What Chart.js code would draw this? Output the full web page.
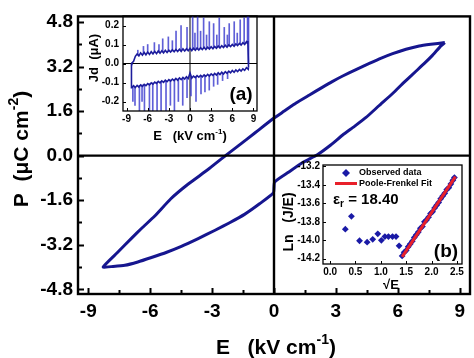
<!DOCTYPE html>
<html><head><meta charset="utf-8">
<script src="https://cdn.jsdelivr.net/npm/chart.js@4/dist/chart.umd.min.js"></script>
<style>
html,body{margin:0;padding:0;background:#fff;}
#wrap{position:relative;width:474px;height:358px;overflow:hidden;background:#fff;}
canvas{position:absolute;}
</style></head><body>
<div id="wrap">
<canvas id="main" style="left:0px;top:0px;width:474px;height:358px" width="474" height="358"></canvas>
<canvas id="insA" style="left:84px;top:6px;width:178px;height:140px" width="178" height="140"></canvas>
<canvas id="insB" style="left:276px;top:156px;width:194px;height:136px" width="194" height="136"></canvas>
</div>
<script>
// ---------- main P-E loop ----------
const loopUpperE = [8.28, 7.6, 7.04, 6.4, 5.75, 5.2, 4.62, 4.0, 3.33, 2.8, 2.36, 1.7, 1.07, 0.5, 0.0, -0.9, -1.75, -2.35, -3.2, -4.17, -5.0, -5.78, -6.4, -6.91, -7.6, -8.28];
const loopUpperP = [4.06, 4.0, 3.94, 3.82, 3.66, 3.5, 3.31, 3.1, 2.86, 2.65, 2.46, 2.17, 1.89, 1.6, 1.35, 0.83, 0.34, 0.0, -0.5, -1.03, -1.55, -2.17, -2.6, -2.97, -3.49, -4.0];
const loopLowerE = [-7.8, -7.23, -6.6, -5.94, -5.2, -4.49, -3.7, -2.88, -2.15, -1.43, -0.7, -0.03, 0.03, 0.7, 1.39, 2.1, 2.75, 3.33, 3.9, 4.46, 5.1, 5.75, 6.3, 6.88, 7.3, 7.68, 8.09, 8.28];
const loopLowerP = [-3.98, -3.94, -3.82, -3.66, -3.47, -3.26, -2.99, -2.69, -2.41, -2.11, -1.73, -1.34, -0.95, -0.6, -0.25, 0.03, 0.38, 0.74, 1.05, 1.37, 1.8, 2.23, 2.63, 3.03, 3.32, 3.6, 3.94, 4.06];
const eTicks = [-9, -6, -3, 0, 3, 6, 9];
const eMinorTicks = [-7.5, -4.5, -1.5, 1.5, 4.5, 7.5];
const pTicks = [-4.8, -3.2, -1.6, 0.0, 1.6, 3.2, 4.8];
const pMinorTicks = [-4.0, -2.4, -0.8, 0.8, 2.4, 4.0];

// ---------- inset (a): leakage current (noisy band + spikes) ----------
const jdUpperE = [-8.3, -8.25, -8.0, -7.75, -7.5, -7.25, -7.0, -6.75, -6.5, -6.25,
  -6.0, -5.75, -5.5, -5.25, -5.0, -4.75, -4.5, -4.25, -4.0, -3.75,
  -3.5, -3.25, -3.0, -2.75, -2.5, -2.25, -2.0, -1.75, -1.5, -1.25,
  -1.0, -0.75, -0.5, -0.25, 0.0, 0.25, 0.5, 0.75, 1.0, 1.25,
  1.5, 1.75, 2.0, 2.25, 2.5, 2.75, 3.0, 3.25, 3.5, 3.75,
  4.0, 4.25, 4.5, 4.75, 5.0, 5.25, 5.5, 5.75, 6.0, 6.25,
  6.5, 6.75, 7.0, 7.25, 7.5, 7.75, 8.0, 8.1, 8.2, 8.3];
const jdUpperJ = [-0.005, 0.002, 0.012, 0.038, 0.05, 0.04, 0.056, 0.044, 0.058, 0.046,
  0.06, 0.048, 0.062, 0.05, 0.064, 0.052, 0.066, 0.054, 0.067, 0.056,
  0.069, 0.058, 0.07, 0.06, 0.072, 0.062, 0.074, 0.063, 0.075, 0.064,
  0.077, 0.066, 0.078, 0.067, 0.08, 0.068, 0.08, 0.07, 0.082, 0.071,
  0.083, 0.073, 0.085, 0.074, 0.086, 0.076, 0.088, 0.078, 0.09, 0.08,
  0.092, 0.082, 0.094, 0.084, 0.096, 0.086, 0.098, 0.089, 0.10, 0.091,
  0.103, 0.094, 0.106, 0.097, 0.109, 0.10, 0.114, 0.108, 0.118, -0.02];
const jdLowerE = [8.3, 8.25, 8.0, 7.75, 7.5, 7.25, 7.0, 6.75, 6.5, 6.25,
  6.0, 5.75, 5.5, 5.25, 5.0, 4.75, 4.5, 4.25, 4.0, 3.75,
  3.5, 3.25, 3.0, 2.75, 2.5, 2.25, 2.0, 1.75, 1.5, 1.25,
  1.0, 0.75, 0.5, 0.25, 0.0, -0.25, -0.5, -0.75, -1.0, -1.25,
  -1.5, -1.75, -2.0, -2.25, -2.5, -2.75, -3.0, -3.25, -3.5, -3.75,
  -4.0, -4.25, -4.5, -4.75, -5.0, -5.25, -5.5, -5.75, -6.0, -6.25,
  -6.5, -6.75, -7.0, -7.25, -7.5, -7.75, -8.0, -8.25, -8.3, -8.3];
const jdLowerJ = [-0.02, -0.03, -0.022, -0.036, -0.028, -0.04, -0.031, -0.043, -0.034, -0.046,
  -0.037, -0.049, -0.04, -0.052, -0.043, -0.055, -0.046, -0.058, -0.049, -0.061,
  -0.052, -0.063, -0.055, -0.066, -0.057, -0.068, -0.06, -0.07, -0.062, -0.072,
  -0.064, -0.074, -0.066, -0.077, -0.05, -0.079, -0.07, -0.082, -0.073, -0.085,
  -0.076, -0.088, -0.079, -0.09, -0.082, -0.093, -0.085, -0.096, -0.088, -0.099,
  -0.091, -0.102, -0.094, -0.105, -0.098, -0.109, -0.102, -0.113, -0.106, -0.117,
  -0.11, -0.121, -0.113, -0.124, -0.115, -0.127, -0.117, -0.128, -0.122, 0.0];
const spikeUpE = [-7.4, -6.6, -6.0, -5.05, -4.4, -3.87, -3.07, -2.5, -1.98, -1.27,
  -0.42, 0.38, 0.7, 1.08, 1.5, 1.93, 2.35, 2.74, 3.35, 3.8,
  4.15, 4.86, 5.3, 5.56, 6.27, 6.7, 7.12, 7.68, 8.16, 8.3];
const spikeUpBase = [0.045, 0.05, 0.055, 0.058, 0.06, 0.062, 0.065, 0.066, 0.068, 0.07,
  0.072, 0.073, 0.074, 0.075, 0.076, 0.078, 0.079, 0.08, 0.083, 0.085,
  0.086, 0.09, 0.092, 0.093, 0.097, 0.10, 0.102, 0.107, 0.112, 0.0];
const spikeUpTop = [0.07, 0.09, 0.10, 0.11, 0.10, 0.13, 0.14, 0.12, 0.17, 0.20,
  0.19, 0.25, 0.16, 0.25, 0.17, 0.24, 0.15, 0.22, 0.21, 0.15,
  0.24, 0.19, 0.15, 0.21, 0.22, 0.16, 0.23, 0.24, 0.25, 0.25];
const spikeDnE = [-8.1, -7.8, -7.17, -6.8, -6.46, -5.75, -5.28, -4.67, -4.1, -3.4,
  -2.78, -2.21, -1.65, -1.03, -0.42, 0.14, 0.85, 1.56, 2.12, 2.73,
  3.35, 3.92, 4.62, 5.33];
const spikeDnBase = [-0.12, -0.12, -0.115, -0.112, -0.11, -0.106, -0.102, -0.098, -0.094, -0.09,
  -0.086, -0.083, -0.08, -0.077, -0.073, -0.071, -0.069, -0.066, -0.063, -0.06,
  -0.057, -0.054, -0.05, -0.045];
const spikeDnTop = [-0.2, -0.22, -0.25, -0.2, -0.25, -0.25, -0.25, -0.25, -0.25, -0.25,
  -0.22, -0.25, -0.2, -0.22, -0.18, -0.17, -0.2, -0.16, -0.15, -0.14,
  -0.12, -0.11, -0.09, -0.08];
const aETicks = [-9, -6, -3, 0, 3, 6, 9];
const aJTicks = [-0.2, -0.1, 0.0, 0.1, 0.2];

// ---------- inset (b): Poole-Frenkel ----------
const pfSqrtE = [0.30, 0.42, 0.58, 0.73, 0.84, 0.94, 1.01, 1.08, 1.15, 1.23, 1.30, 1.36,
  1.42, 1.46, 1.50, 1.54, 1.58, 1.62, 1.66, 1.70, 1.74, 1.78, 1.82, 1.86, 1.90, 1.94,
  1.98, 2.02, 2.06, 2.10, 2.14, 2.18, 2.22, 2.26, 2.30, 2.34, 2.38, 2.42, 2.45];
const pfLnJE = [-13.88, -13.74, -14.005, -14.02, -13.99, -13.93, -14.0, -13.96, -13.96, -13.96, -13.96, -14.06,
  -14.17, -14.13, -14.11, -14.07, -14.04, -14.01, -13.97, -13.94, -13.91, -13.87, -13.85, -13.80, -13.78, -13.75,
  -13.71, -13.69, -13.65, -13.62, -13.59, -13.55, -13.52, -13.49, -13.45, -13.43, -13.39, -13.35, -13.32];
const fitSqrtE = [1.42, 2.47];
const fitLnJE = [-14.18, -13.31];
const bXTicks = [0.0, 0.5, 1.0, 1.5, 2.0, 2.5];
const bYTicks = [-14.2, -14.0, -13.8, -13.6, -13.4, -13.2];
const legendLabels = ['Observed data', 'Poole-Frenkel Fit'];
const epsText = ['\u03B5', 'r', ' = 18.40'];

// ---------- helpers ----------
const FONT = '"Liberation Sans", Arial, Helvetica, sans-serif';
const pts = (xs, ys) => xs.map((x, i) => ({x: x, y: ys[i]}));
const bars = (xs, lo, hi) => xs.map((x, i) => ({x: x, y: [lo[i], hi[i]]}));
const setTicks = arr => s => { s.ticks = arr.map(v => ({value: v})); };

function drawRich(ctx, parts, cx, cy, size, rot) {
  ctx.save();
  ctx.translate(cx, cy);
  if (rot) ctx.rotate(-Math.PI / 2);
  ctx.fillStyle = '#000';
  ctx.textBaseline = 'alphabetic';
  ctx.textAlign = 'left';
  const small = Math.round(size * 0.65);
  let w = 0;
  parts.forEach(p => { ctx.font = 'bold ' + (p.s ? small : size) + 'px ' + FONT; p.w = ctx.measureText(p.t).width; w += p.w; });
  let x = -w / 2;
  const base = size * 0.36;
  parts.forEach(p => {
    ctx.font = 'bold ' + (p.s ? small : size) + 'px ' + FONT;
    let y = base;
    if (p.s === 1) y = base - size * 0.45;
    ctx.fillText(p.t, x, y);
    x += p.w;
  });
  ctx.restore();
}

function frame(chart, lw, t) {
  const {ctx, chartArea: a, scales: {x, y}} = chart;
  ctx.save();
  ctx.strokeStyle = '#000';
  ctx.lineWidth = lw;
  ctx.strokeRect(a.left, a.top, a.right - a.left, a.bottom - a.top);
  ctx.lineWidth = t.w;
  ctx.beginPath();
  t.xMaj.forEach(v => { const px = Math.round(x.getPixelForValue(v)) + 0.5; ctx.moveTo(px, a.bottom); ctx.lineTo(px, a.bottom - t.maj); });
  t.xMin.forEach(v => { const px = Math.round(x.getPixelForValue(v)) + 0.5; ctx.moveTo(px, a.bottom); ctx.lineTo(px, a.bottom - t.min); });
  t.yMaj.forEach(v => { const py = Math.round(y.getPixelForValue(v)) + 0.5; ctx.moveTo(a.left, py); ctx.lineTo(a.left + t.maj, py); });
  t.yMin.forEach(v => { const py = Math.round(y.getPixelForValue(v)) + 0.5; ctx.moveTo(a.left, py); ctx.lineTo(a.left + t.min, py); });
  ctx.stroke();
  ctx.restore();
}

function zeroLines(chart, lw) {
  const {ctx, chartArea: a, scales: {x, y}} = chart;
  const x0 = x.getPixelForValue(0), y0 = y.getPixelForValue(0);
  ctx.save();
  ctx.strokeStyle = '#000';
  ctx.lineWidth = lw;
  ctx.beginPath();
  ctx.moveTo(x0, a.top); ctx.lineTo(x0, a.bottom);
  ctx.moveTo(a.left, y0); ctx.lineTo(a.right, y0);
  ctx.stroke();
  ctx.restore();
}

function axis(min, max, tickArr, fmt, size, pad, fit) {
  return {
    type: 'linear', min: min, max: max, offset: false,
    grid: {display: false, drawTicks: false, offset: false},
    border: {display: false},
    ticks: {font: {family: FONT, size: size, weight: 'bold'}, color: '#000', padding: pad, callback: fmt, autoSkip: false, maxRotation: 0},
    afterBuildTicks: setTicks(tickArr),
    afterFit: fit
  };
}

const common = {
  responsive: false, animation: false, events: [],
  plugins: {legend: {display: false}, tooltip: {enabled: false}}
};

// ---------- main chart ----------
new Chart(document.getElementById('main'), {
  type: 'scatter',
  data: {datasets: [{
    data: pts(loopUpperE, loopUpperP).concat(pts(loopLowerE, loopLowerP)),
    showLine: true, borderColor: '#16168f', borderWidth: 3, pointRadius: 0, tension: 0.15, fill: false
  }]},
  options: Object.assign({}, common, {
    layout: {padding: {left: 0, right: 4, top: 4, bottom: 0}},
    scales: {
      x: axis(-9.5, 9.5, eTicks, v => String(v), 19, 6, s => { s.height = 64; }),
      y: axis(-4.97, 5.0, pTicks, v => v.toFixed(1), 19, 5, s => { s.width = 78; })
    }
  }),
  plugins: [{
    id: 'mainDeco',
    afterDatasetsDraw(chart) { zeroLines(chart, 2.4); },
    afterDraw(chart) {
      frame(chart, 2.4, {w: 2, maj: 6, min: 4, xMaj: eTicks, xMin: eMinorTicks, yMaj: pTicks, yMin: pMinorTicks});
      const ctx = chart.ctx;
      drawRich(ctx, [{t: 'E   (kV cm'}, {t: '-1', s: 1}, {t: ')'}], 276, 346, 21, false);
      drawRich(ctx, [{t: 'P  (\u03BCC cm'}, {t: '-2', s: 1}, {t: ')'}], 20, 149, 21, true);
    }
  }]
});

// ---------- inset (a) ----------
const spikeStyle = {type: 'bar', barThickness: 1, grouped: false, backgroundColor: 'rgba(55,55,205,0.8)', borderWidth: 0};
new Chart(document.getElementById('insA'), {
  type: 'scatter',
  data: {datasets: [
    {data: pts(jdUpperE, jdUpperJ), showLine: true, borderColor: '#1c1c9c', borderWidth: 1.6, pointRadius: 0, tension: 0, order: 0},
    {data: pts(jdLowerE, jdLowerJ), showLine: true, borderColor: '#1c1c9c', borderWidth: 1.6, pointRadius: 0, tension: 0, order: 0},
    Object.assign({data: bars(spikeUpE, spikeUpBase, spikeUpTop), order: 1}, spikeStyle),
    Object.assign({data: bars(spikeDnE, spikeDnBase, spikeDnTop), order: 1}, spikeStyle)
  ]},
  options: Object.assign({}, common, {
    layout: {padding: {left: 0, right: 5, top: 7, bottom: 0}},
    scales: {
      x: axis(-9.5, 9.5, aETicks, v => String(v), 10, 2, s => { s.height = 35; }),
      y: axis(-0.25, 0.25, aJTicks, v => v.toFixed(1), 10, 4, s => { s.width = 39; })
    }
  }),
  plugins: [{
    id: 'aDeco',
    beforeDatasetsDraw(chart) { zeroLines(chart, 1); },
    afterDraw(chart) {
      frame(chart, 1.3, {w: 1, maj: 3, min: 2, xMaj: aETicks, xMin: [], yMaj: aJTicks, yMin: []});
      const ctx = chart.ctx;
      drawRich(ctx, [{t: 'E   (kV cm'}, {t: '-1', s: 1}, {t: ')'}], 106, 129, 13, false);
      drawRich(ctx, [{t: 'Jd  (\u03BCA)'}], 9, 52, 13, true);
      drawRich(ctx, [{t: '(a)'}], 157, 87, 19, false);
    }
  }]
});

// ---------- inset (b) ----------
new Chart(document.getElementById('insB'), {
  type: 'scatter',
  data: {datasets: [
    {data: pts(fitSqrtE, fitLnJE), showLine: true, borderColor: '#e8202a', borderWidth: 3, pointRadius: 0, tension: 0},
    {data: pts(pfSqrtE, pfLnJE), showLine: false, pointStyle: 'rectRot', pointRadius: 3.4, backgroundColor: '#1a1aa6', borderColor: '#1a1aa6', borderWidth: 0}
  ]},
  options: Object.assign({}, common, {
    layout: {padding: {left: 0, right: 8, top: 8, bottom: 0}},
    scales: {
      x: axis(-0.14, 2.6, bXTicks, v => v.toFixed(1), 10, 2, s => { s.height = 28; }),
      y: axis(-14.257, -13.184, bYTicks, v => v.toFixed(1), 10, 3, s => { s.width = 47; })
    }
  }),
  plugins: [{
    id: 'bDeco',
    afterDraw(chart) {
      frame(chart, 1.3, {w: 1, maj: 3, min: 2, xMaj: bXTicks, xMin: [], yMaj: bYTicks, yMin: []});
      const ctx = chart.ctx;
      ctx.save();
      ctx.fillStyle = '#1a1aa6';
      ctx.beginPath();
      ctx.moveTo(70, 13); ctx.lineTo(74, 17); ctx.lineTo(70, 21); ctx.lineTo(66, 17); ctx.closePath(); ctx.fill();
      ctx.strokeStyle = '#e8202a'; ctx.lineWidth = 3;
      ctx.beginPath(); ctx.moveTo(59, 27.5); ctx.lineTo(81, 27.5); ctx.stroke();
      ctx.fillStyle = '#000'; ctx.font = 'bold 9px ' + FONT; ctx.textBaseline = 'middle'; ctx.textAlign = 'left';
      ctx.fillText(legendLabels[0], 83, 17);
      ctx.fillText(legendLabels[1], 83, 27.5);
      ctx.font = 'bold 15px ' + FONT; ctx.textBaseline = 'alphabetic';
      let x = 57;
      ctx.fillText(epsText[0], x, 48); x += ctx.measureText(epsText[0]).width;
      ctx.font = 'bold 10px ' + FONT; ctx.fillText(epsText[1], x, 51); x += ctx.measureText(epsText[1]).width;
      ctx.font = 'bold 15px ' + FONT; ctx.fillText(epsText[2], x, 48);
      ctx.restore();
      drawRich(ctx, [{t: '\u221AE'}], 115, 128, 13, false);
      drawRich(ctx, [{t: 'Ln   (J/E)'}], 12, 66, 14, true);
      drawRich(ctx, [{t: '(b)'}], 170, 94, 19, false);
    }
  }]
});
</script>
</body></html>
